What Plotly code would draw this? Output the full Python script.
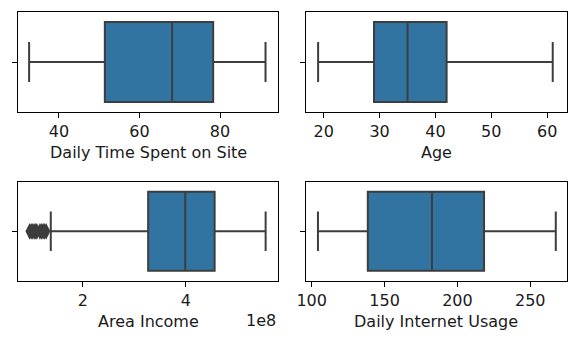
import plotly.graph_objects as go

# ---- data (five-number summaries) ----
labels = ["Daily Time Spent on Site", "Age", "Area Income", "Daily Internet Usage"]
lower_whisker = [32.6, 19.0, 1.38e8, 104.3]
q1_vals = [51.4, 29.0, 3.27e8, 138.5]
median_vals = [68.1, 35.0, 3.99e8, 182.5]
q3_vals = [78.3, 42.0, 4.56e8, 218.3]
upper_whisker = [91.3, 61.0, 5.55e8, 267.5]
area_income_outliers = [0.97e8, 1.00e8, 1.03e8, 1.06e8, 1.09e8, 1.11e8,
                        1.17e8, 1.20e8, 1.23e8, 1.26e8, 1.29e8]

x_ranges = [[29.84, 94.4], [16.83, 63.5], [0.744e8, 5.79e8], [96.1, 275.0]]
tick_vals = [[40, 60, 80], [20, 30, 40, 50, 60], [2e8, 4e8], [100, 150, 200, 250]]
tick_text = [["40", "60", "80"], ["20", "30", "40", "50", "60"], ["2", "4"],
             ["100", "150", "200", "250"]]

W, H = 578, 343
FILL = "#3274a1"
GRAY = "#3d3d3d"
FONT = dict(family="DejaVu Sans", size=16, color="#1a1a1a")

x_domains = [[18 / W, 278 / W], [306 / W, 566.7 / W], [18 / W, 278 / W], [306 / W, 566.7 / W]]
y_domains = [[1 - 112 / H, 1 - 12 / H], [1 - 112 / H, 1 - 12 / H],
             [1 - 280.7 / H, 1 - 182 / H], [1 - 280.7 / H, 1 - 182 / H]]
title_y = [1 - 153 / H, 1 - 153 / H, 1 - 321.5 / H, 1 - 321.5 / H]

fig = go.Figure()
layout = dict(width=W, height=H, margin=dict(l=0, r=0, t=0, b=0, autoexpand=False),
              paper_bgcolor="white", plot_bgcolor="white",
              showlegend=False, font=FONT, annotations=[])

for i in range(4):
    sfx = "" if i == 0 else str(i + 1)
    fig.add_trace(go.Box(
        orientation="h", y=[0],
        q1=[q1_vals[i]], median=[median_vals[i]], q3=[q3_vals[i]],
        lowerfence=[lower_whisker[i]], upperfence=[upper_whisker[i]],
        width=0.8, whiskerwidth=0.5, boxpoints=False,
        fillcolor=FILL, line=dict(color=GRAY, width=2),
        xaxis="x" + sfx, yaxis="y" + sfx, hoverinfo="skip"))
    layout["xaxis" + sfx] = dict(
        domain=x_domains[i], range=x_ranges[i], anchor="y" + sfx,
        automargin=False,
        showgrid=False, zeroline=False, showline=True, mirror=True,
        linecolor="black", linewidth=1, ticks="outside", ticklen=5,
        tickwidth=1, tickcolor="black", tickvals=tick_vals[i],
        ticktext=tick_text[i], tickfont=FONT)
    layout["yaxis" + sfx] = dict(
        domain=y_domains[i], range=[-0.5, 0.5], anchor="x" + sfx,
        automargin=False,
        showgrid=False, zeroline=False, showline=True, mirror=True,
        linecolor="black", linewidth=1, ticks="outside", ticklen=5,
        tickwidth=1, tickcolor="black", tickvals=[0], ticktext=[""])
    layout["annotations"].append(dict(
        text=labels[i], xref="x%s domain" % sfx, x=0.5, yref="paper",
        y=title_y[i], xanchor="center", yanchor="middle",
        showarrow=False, font=FONT))

fig.add_trace(go.Scatter(
    x=area_income_outliers, y=[0] * len(area_income_outliers),
    mode="markers", xaxis="x3", yaxis="y3", hoverinfo="skip",
    marker=dict(symbol="diamond-tall", size=12, color=GRAY,
                line=dict(width=0))))

layout["annotations"].append(dict(
    text="1e8", xref="x3 domain", x=1.0, yref="paper", y=1 - 320.7 / H,
    xanchor="right", yanchor="middle", showarrow=False, font=FONT))

fig.update_layout(**layout)
fig.write_html("out.html")
